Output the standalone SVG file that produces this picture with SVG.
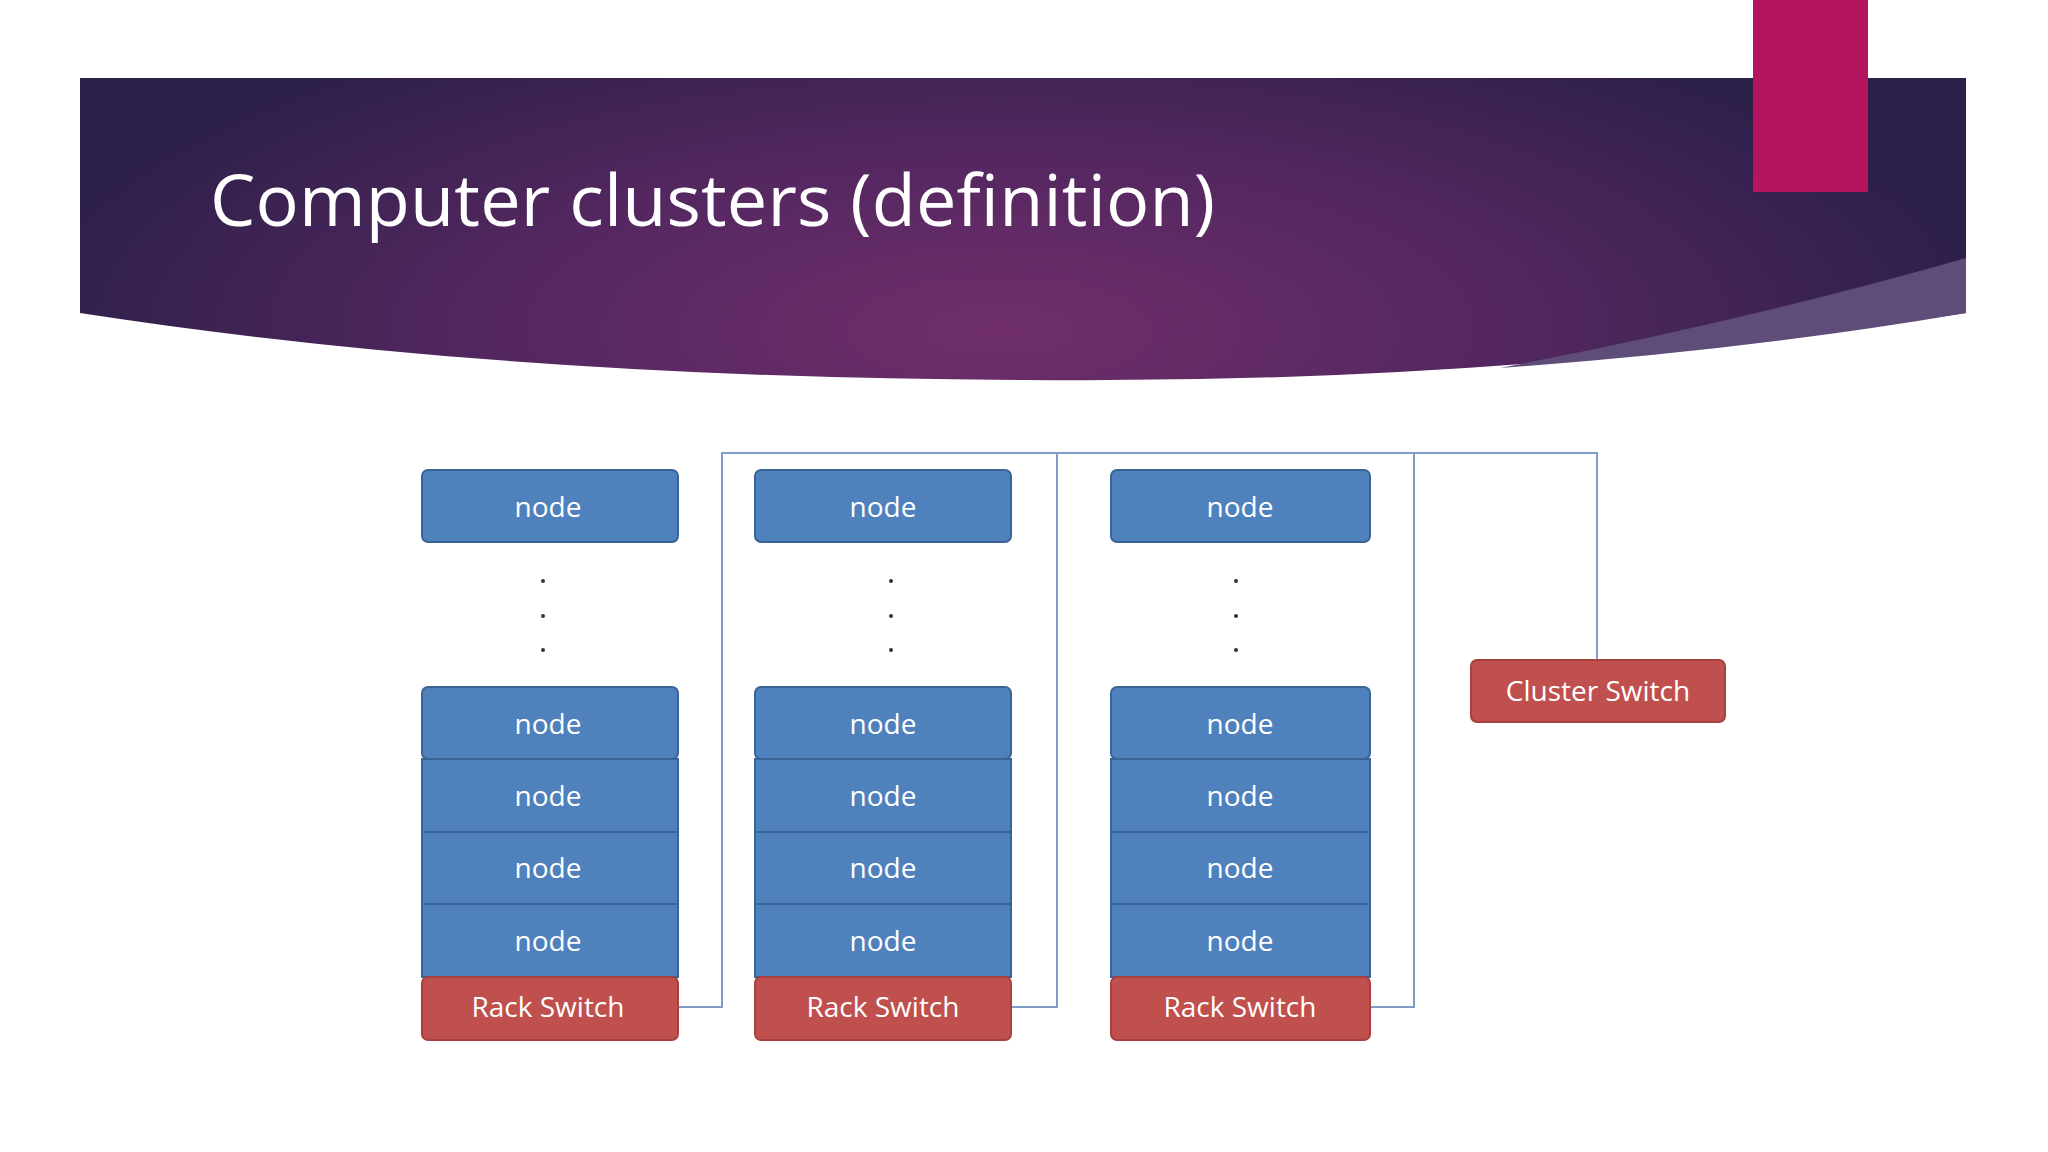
<svg xmlns="http://www.w3.org/2000/svg" width="2048" height="1152" viewBox="0 0 2048 1152">
<defs>
<radialGradient id="hg" gradientUnits="userSpaceOnUse" cx="1000" cy="330" r="1000" gradientTransform="translate(1000 330) scale(1 0.35) translate(-1000 -330)">
<stop offset="0" stop-color="#702e6c"/><stop offset="0.5" stop-color="#542760"/><stop offset="1" stop-color="#2c2049"/>
</radialGradient>
<style>
.n{fill:#4f81bd;stroke:#3a6496;stroke-width:2}
.r{fill:#c0504d;stroke:#a8403d;stroke-width:2}
.t{font-family:"Open Sans","Liberation Sans",sans-serif;font-size:28px;fill:#fff;text-anchor:middle}
.c{fill:none;stroke:#7f9dc8;stroke-width:2}
.d{fill:#333}
</style>
</defs>
<rect width="2048" height="1152" fill="#fff"/>
<path d="M80 78H1966V313Q1500 385 1023 380Q500 378 80 313Z" fill="url(#hg)"/>
<path d="M1966 258V313Q1750 350 1500 368Q1750 320 1966 258Z" fill="#5e4d78"/>
<rect x="1753" y="0" width="115" height="192" fill="#b5145f"/>
<text x="210" y="226" font-family="'Segoe UI','Open Sans','Liberation Sans',sans-serif" font-size="72" textLength="1005" fill="#fff">Computer clusters (definition)</text>
<g id="connectors">
<path class="c" d="M678 1007H722V453H1597V660"/>
<path class="c" d="M1011 1007H1057V453"/>
<path class="c" d="M1370 1007H1414V453"/>
</g>
<g id="col1">
<rect class="n" x="422" y="470" width="256" height="72" rx="6"/><text class="t" x="548" y="517">node</text>
<circle class="d" cx="543" cy="581" r="2"/><circle class="d" cx="543" cy="616" r="2"/><circle class="d" cx="543" cy="650" r="2"/>
<rect class="n" x="422" y="687" width="256" height="72" rx="6"/><text class="t" x="548" y="734">node</text>
<rect class="n" x="422" y="759" width="256" height="73"/><text class="t" x="548" y="806">node</text>
<rect class="n" x="422" y="832" width="256" height="72"/><text class="t" x="548" y="878">node</text>
<rect class="n" x="422" y="904" width="256" height="73"/><text class="t" x="548" y="951">node</text>
<rect class="r" x="422" y="977" width="256" height="63" rx="6"/><text class="t" x="548" y="1017">Rack Switch</text>
</g>
<g id="col2">
<rect class="n" x="755" y="470" width="256" height="72" rx="6"/><text class="t" x="883" y="517">node</text>
<circle class="d" cx="891" cy="581" r="2"/><circle class="d" cx="891" cy="616" r="2"/><circle class="d" cx="891" cy="650" r="2"/>
<rect class="n" x="755" y="687" width="256" height="72" rx="6"/><text class="t" x="883" y="734">node</text>
<rect class="n" x="755" y="759" width="256" height="73"/><text class="t" x="883" y="806">node</text>
<rect class="n" x="755" y="832" width="256" height="72"/><text class="t" x="883" y="878">node</text>
<rect class="n" x="755" y="904" width="256" height="73"/><text class="t" x="883" y="951">node</text>
<rect class="r" x="755" y="977" width="256" height="63" rx="6"/><text class="t" x="883" y="1017">Rack Switch</text>
</g>
<g id="col3">
<rect class="n" x="1111" y="470" width="259" height="72" rx="6"/><text class="t" x="1240" y="517">node</text>
<circle class="d" cx="1236" cy="581" r="2"/><circle class="d" cx="1236" cy="616" r="2"/><circle class="d" cx="1236" cy="650" r="2"/>
<rect class="n" x="1111" y="687" width="259" height="72" rx="6"/><text class="t" x="1240" y="734">node</text>
<rect class="n" x="1111" y="759" width="259" height="73"/><text class="t" x="1240" y="806">node</text>
<rect class="n" x="1111" y="832" width="259" height="72"/><text class="t" x="1240" y="878">node</text>
<rect class="n" x="1111" y="904" width="259" height="73"/><text class="t" x="1240" y="951">node</text>
<rect class="r" x="1111" y="977" width="259" height="63" rx="6"/><text class="t" x="1240" y="1017">Rack Switch</text>
</g>
<g id="cluster-switch">
<rect class="r" x="1471" y="660" width="254" height="62" rx="6"/><text class="t" x="1598" y="701">Cluster Switch</text>
</g>
</svg>
